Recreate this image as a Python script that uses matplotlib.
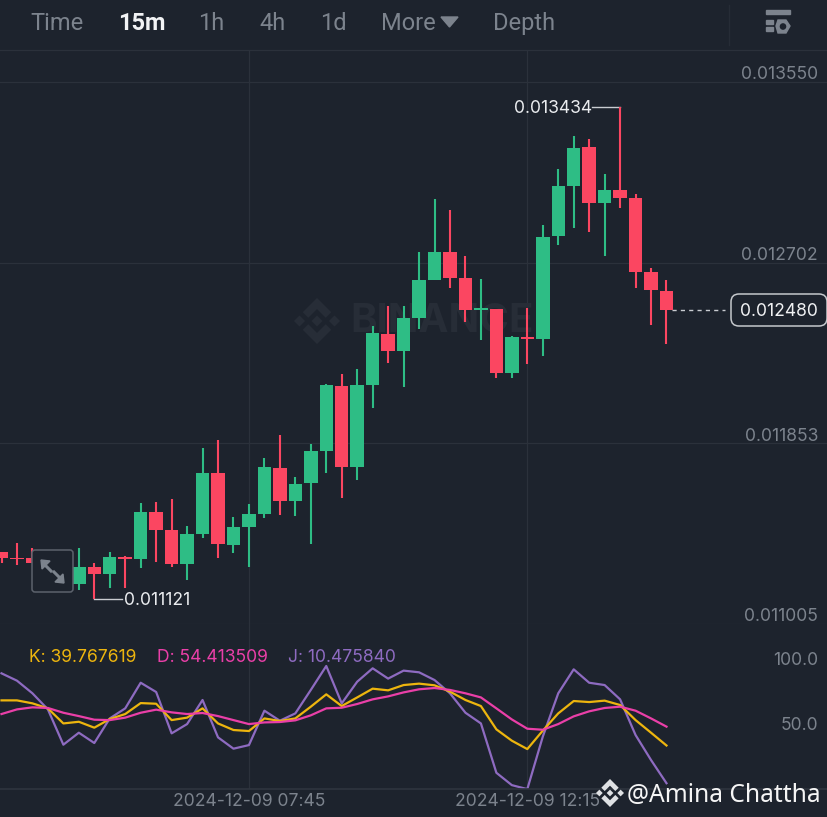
import matplotlib
matplotlib.use('Agg')
from matplotlib import pyplot as plt
from matplotlib.patches import FancyBboxPatch, Polygon, Rectangle
import numpy as np

bg = '#1d232d'
grid = '#2b313b'
green = '#2ebd85'
red = '#fb4661'
muted = '#7c838d'

# prices in millionths
opens = [11344, 11313, 11313, 11282, 11305, 11191, 11274, 11241, 11321, 11312, 11532,
         11445, 11287, 11426, 11715, 11376, 11460, 11520, 11739, 11581, 11666, 11817,
         12122, 11744, 12126, 12367, 12287, 12443, 12620, 12752, 12628, 12481, 12485,
         12182, 12354, 12342, 12825, 13060, 13243, 12983, 13043, 13004, 12659, 12568]
highs = [11344, 11387, 11362, 11329, 11324, 11360, 11290, 11342, 11324, 11572, 11578,
         11590, 11465, 11830, 11869, 11509, 11567, 11786, 11894, 11697, 11850, 12130,
         12177, 12201, 12406, 12499, 12499, 12752, 12999, 12949, 12733, 12625, 12485,
         12357, 12487, 12878, 13140, 13298, 13282, 13116, 13434, 13022, 12678, 12619]
lows = [11293, 11283, 11290, 11259, 11249, 11165, 11121, 11175, 11173, 11269, 11295,
        11274, 11210, 11407, 11316, 11340, 11273, 11501, 11515, 11512, 11379, 11715,
        11595, 11681, 12021, 12230, 12119, 12391, 12620, 12584, 12424, 12340, 12161,
        12161, 12224, 12263, 12784, 12863, 12847, 12733, 12960, 12584, 12409, 12320]
closes = [11316, 11308, 11290, 11305, 11273, 11274, 11240, 11320, 11312, 11532, 11446,
          11287, 11426, 11715, 11381, 11462, 11520, 11744, 11581, 11664, 11816, 12126,
          11744, 12127, 12370, 12287, 12443, 12620, 12752, 12629, 12481, 12490, 12182,
          12352, 12343, 12822, 13060, 13240, 12983, 13043, 13006, 12658, 12572, 12480]

k_vals = [74.8, 74.8, 72.5, 68.6, 56.9, 58.2, 53.6, 60.3, 64.2, 72.7, 72.2, 59.5, 61.4, 68.6, 56.9,
          51.8, 51.0, 60.8, 58.8, 60.8, 69.9, 79.5, 70.4, 77.1, 83.9, 82.6, 86.7, 87.8, 86.5, 81.6,
          75.1, 70.4, 52.3, 43.5, 37.0, 51.3, 64.7, 74.3, 73.5, 74.6, 71.2, 59.5, 49.7, 39.767619]
d_vals = [64.2, 67.8, 69.4, 68.9, 65.2, 62.6, 59.8, 59.5, 61.4, 65.2, 67.6, 65.5, 64.2, 65.0, 62.6,
          59.5, 56.4, 57.7, 58.0, 59.3, 63.2, 68.6, 69.1, 72.0, 75.6, 77.9, 81.0, 83.4, 84.4, 82.9,
          80.3, 77.1, 68.6, 60.0, 52.8, 52.0, 56.4, 62.4, 66.3, 68.9, 69.9, 66.8, 60.8, 54.413509]
j_vals = [95.8, 90.1, 80.3, 67.8, 40.4, 49.7, 41.7, 60.8, 68.6, 88.5, 81.3, 49.2, 56.4, 75.1, 46.1,
          37.3, 40.1, 66.8, 59.0, 64.7, 82.9, 101.5, 72.5, 89.3, 99.7, 91.7, 97.9, 96.6, 90.6, 80.3,
          65.2, 56.9, 18.6, 9.0, 5.9, 46.6, 80.3, 98.9, 88.5, 86.7, 75.6, 47.9, 28.5, 10.475840]

price_ticks = [0.013550, 0.012702, 0.011853, 0.011005]
kdj_ticks = [100.0, 50.0]
time_idx = [16, 34]
time_labels = ['2024-12-09 07:45', '2024-12-09 12:15']
tabs = ['Time', '15m', '1h', '4h', '1d', 'More', 'Depth']
tab_left = [30, 118, 198, 259, 320, 381, 493]

W, H = 828, 817
fig = plt.figure(figsize=(W / 100, H / 100), dpi=100, facecolor=bg)
plt.rcParams['font.family'] = ['Inter', 'DejaVu Sans']
fs = 12.6


def px_axes(top, bottom):
    return fig.add_axes([0, 1 - bottom / H, 1, (bottom - top) / H], facecolor='none')


def idx(px):
    return (px - 1.5) / 15.465


def logo(target, cx, cy, s, color, z):
    top = [(0, -1), (0.62, -0.38), (0.38, -0.14), (0, -0.52), (-0.38, -0.14), (-0.62, -0.38)]
    shapes = [top, [(a, -b) for a, b in top]]
    for dx in [-0.76, 0, 0.76]:
        shapes.append([(dx - 0.24, 0), (dx, -0.24), (dx + 0.24, 0), (dx, 0.24)])
    for pts in shapes:
        target.add_patch(Polygon([(cx + a * s, cy + b * s) for a, b in pts], closed=True, color=color,
                                 transform=ui.transData, lw=0, zorder=z))


# main price panel, 4.695e-6 per pixel
ax = px_axes(50, 624)
ax.set_xlim(idx(0), idx(W))
ax.set_ylim(0.011005, 0.011005 + 574 * 4.695e-6)
ax.axis('off')

# kdj panel
ax2 = px_axes(624, 789)
ax2.set_xlim(idx(0), idx(W))
ax2.set_ylim(6.0, 134.1)
ax2.axis('off')

# ui layer in pixel coords
ui = fig.add_axes([0, 0, 1, 1], facecolor='none', zorder=5)
ui.set_xlim(0, W)
ui.set_ylim(H, 0)
ui.axis('off')

# grid
for p in price_ticks:
    ax.axhline(p, color=grid, lw=0.9, zorder=1)
for i in time_idx:
    ax.axvline(i, color=grid, lw=0.9, zorder=1)
    ax2.axvline(i, color=grid, lw=0.9, zorder=1)
ui.plot([0, W], [50, 50], color=grid, lw=0.9, zorder=1)
ui.plot([0, W], [789, 789], color='#2f353f', lw=1.2, zorder=1)
ui.plot([729, 729], [5, 45], color='#262c36', lw=0.9)

# watermark
wm = '#272d37'
logo(ax, 317, 321, 23, wm, 1)
ax.text(350, 321, 'BINANCE', color=wm, fontsize=29, fontweight='bold', family='Inter', va='center',
        transform=ui.transData, zorder=1)

# candles
x = np.arange(len(opens))
o = np.array(opens) / 1e6
h = np.array(highs) / 1e6
l = np.array(lows) / 1e6
c = np.array(closes) / 1e6
colors = [green if c[i] >= o[i] else red for i in range(len(x))]
ax.vlines(x, l, h, colors=colors, lw=1.5, zorder=3)
ax.bar(x, np.abs(c - o), bottom=np.minimum(o, c), width=0.87, color=colors, zorder=4)

# high / low markers
hi = int(np.argmax(h))
lo = int(np.argmin(l))
ax.plot([hi, idx(592)], [h[hi], h[hi]], color='#c9ccd1', lw=1.0, zorder=2)
ax.plot([lo, idx(122)], [l[lo], l[lo]], color='#c9ccd1', lw=1.0, zorder=2)
ax.annotate('%.6f' % h[hi], (idx(592), h[hi]), xytext=(0, -1.2), textcoords='offset points', color='#eaecef',
            fontsize=fs, ha='right', va='center')
ax.annotate('%.6f' % l[lo], (idx(124), l[lo]), xytext=(0, -1.2), textcoords='offset points', color='#eaecef',
            fontsize=fs, ha='left', va='center')

# last price
ax.plot([idx(672), idx(725)], [c[-1], c[-1]], color='#c9ccd1', lw=1.0, ls=(0, (3, 3)), zorder=2)
ui.add_patch(FancyBboxPatch((731, 294), 96, 32, boxstyle='round,pad=0,rounding_size=8', fc=bg, ec='#c5c8cc', lw=1.1,
                            zorder=6))
ui.text(779, 311, '%.6f' % c[-1], color='#f0f1f3', fontsize=fs, ha='center', va='center', zorder=7)

# price labels
for p in price_ticks:
    ax.annotate('%.6f' % p, (idx(818), p), xytext=(0, 5.2), textcoords='offset points', color=muted, fontsize=fs,
                ha='right', va='center')

# kdj
ax2.plot(x, j_vals, color='#8e6bc1', lw=1.6, zorder=3)
ax2.plot(x, k_vals, color='#edb50e', lw=1.6, zorder=4)
ax2.plot(x, d_vals, color='#ea3fa8', lw=1.6, zorder=5)
for v in kdj_ticks:
    ax2.annotate('%.1f' % v, (idx(818), v), xytext=(0, 5.2), textcoords='offset points', color=muted, fontsize=fs,
                 ha='right', va='center')
ui.text(29, 658, 'K: %.6f' % k_vals[-1], color='#edb50e', fontsize=fs, va='center')
ui.text(157, 658, 'D: %.6f' % d_vals[-1], color='#ea3fa8', fontsize=fs, va='center')
ui.text(288, 658, 'J: %.6f' % j_vals[-1], color='#8e6bc1', fontsize=fs, va='center')

for i, s in zip(time_idx, time_labels):
    ui.text(1.5 + 15.465 * i, 802, s, color=muted, fontsize=fs, ha='center', va='center', zorder=2)

# tabs
for s, left in zip(tabs, tab_left):
    on = s == '15m'
    ui.text(left, 23, s, color='#f2f3f5' if on else muted, fontsize=17, family='Roboto',
            fontweight='bold' if on else 'normal', va='center', ha='left')
ui.add_patch(Polygon([(441, 17), (458, 17), (449.5, 27)], closed=True, color=muted))

# settings icon
ui.add_patch(Rectangle((766, 10), 24, 3.5, color=muted))
ui.add_patch(Rectangle((766, 20), 7, 3.5, color=muted))
ui.add_patch(Rectangle((766, 27), 7, 3.5, color=muted))
ui.add_patch(Polygon([(776, 26), (778, 20), (786, 20), (790, 26), (786, 33), (778, 33)], closed=True, color=muted))
ui.add_patch(plt.Circle((783, 26.5), 2.6, color=bg))

# expand button
ui.add_patch(FancyBboxPatch((32, 550), 41, 42, boxstyle='round,pad=0,rounding_size=3', fc=bg, ec='#5c626c', lw=1.1,
                            zorder=6))
ui.add_patch(Polygon([(41, 560), (50, 561), (42, 569)], closed=True, color=muted, zorder=7))
ui.add_patch(Polygon([(64, 583), (55, 582), (63, 574)], closed=True, color=muted, zorder=7))
ui.plot([45, 51], [565, 571], color=muted, lw=2.2, zorder=7)
ui.plot([54, 60], [572, 578], color=muted, lw=2.2, zorder=7)

# corner watermark
logo(ui, 610, 793, 14, '#dfe1e4', 8)
ui.text(627, 795, '@Amina Chattha', color='#f5f5f5', fontsize=17.7, family='Noto Sans', va='center', ha='left', zorder=8)

fig.savefig('out.png', dpi=100, facecolor=bg)
